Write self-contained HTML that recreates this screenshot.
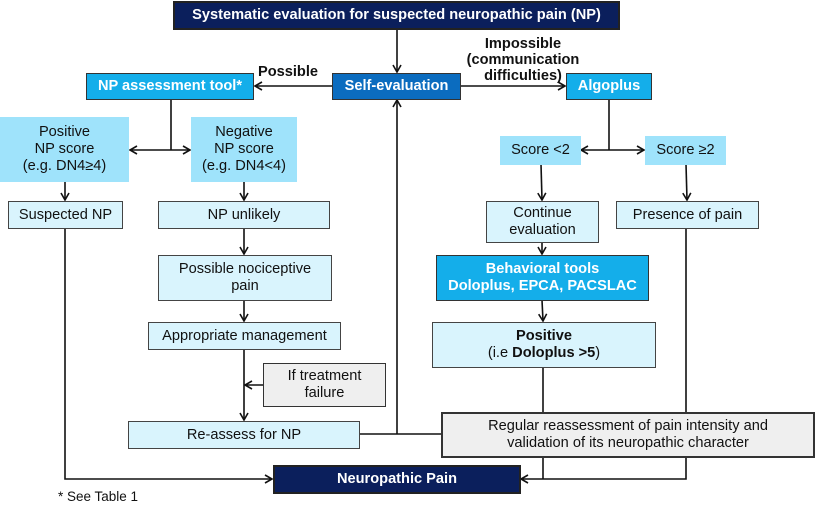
<!DOCTYPE html>
<html><head><style>
body{margin:0;width:815px;height:508px;background:#fff;position:relative;overflow:hidden;font-family:"Liberation Sans",Arial,sans-serif;}
.b{position:absolute;box-sizing:border-box;display:flex;align-items:center;justify-content:center;text-align:center;font-size:14.6px;line-height:17px;color:#111;}
.nav{background:#0b1f5c;color:#fff;font-weight:bold;border:2px solid #222;}
.dk{background:#0b6cbf;color:#fff;font-weight:bold;border:1px solid #333;}
.md{background:#14aeea;color:#fff;font-weight:bold;border:1px solid #333;}
.lt{background:#9fe3fb;}
.pl{background:#d9f4fd;border:1px solid #444;}
.gr{background:#efefef;border:1px solid #333;}
svg{position:absolute;left:0;top:0;}
.lb{position:absolute;font-weight:bold;font-size:14.6px;text-align:center;line-height:16px;color:#111;}
</style></head><body>
<svg width="815" height="508">
<defs><marker id="a" markerWidth="10" markerHeight="10" refX="8" refY="5" orient="auto" markerUnits="userSpaceOnUse"><path d="M1,1 L8,5 L1,9" fill="none" stroke="#111" stroke-width="1.6"/></marker></defs>
<g stroke="#111" stroke-width="1.6" fill="none">
<line x1="397" y1="29" x2="397" y2="72" marker-end="url(#a)"/>
<line x1="332" y1="86" x2="255" y2="86" marker-end="url(#a)"/>
<line x1="461" y1="86" x2="565" y2="86" marker-end="url(#a)"/>
<line x1="171" y1="99" x2="171" y2="150"/>
<line x1="171" y1="150" x2="130" y2="150" marker-end="url(#a)"/>
<line x1="171" y1="150" x2="190" y2="150" marker-end="url(#a)"/>
<line x1="609" y1="99" x2="609" y2="150"/>
<line x1="609" y1="150" x2="581" y2="150" marker-end="url(#a)"/>
<line x1="609" y1="150" x2="644" y2="150" marker-end="url(#a)"/>
<line x1="65" y1="182" x2="65" y2="200" marker-end="url(#a)"/>
<line x1="244" y1="182" x2="244" y2="200" marker-end="url(#a)"/>
<line x1="541" y1="164" x2="542" y2="200" marker-end="url(#a)"/>
<line x1="686" y1="164" x2="687" y2="200" marker-end="url(#a)"/>
<polyline points="65,228 65,479 272,479" marker-end="url(#a)"/>
<line x1="244" y1="228" x2="244" y2="254" marker-end="url(#a)"/>
<line x1="244" y1="300" x2="244" y2="321" marker-end="url(#a)"/>
<line x1="244" y1="349" x2="244" y2="420" marker-end="url(#a)"/>
<line x1="263" y1="385" x2="245" y2="385" marker-end="url(#a)"/>
<line x1="360" y1="434" x2="441" y2="434"/>
<line x1="397" y1="434" x2="397" y2="100" marker-end="url(#a)"/>
<line x1="542" y1="242" x2="542" y2="254" marker-end="url(#a)"/>
<line x1="542" y1="300" x2="543" y2="321" marker-end="url(#a)"/>
<line x1="543" y1="367" x2="543" y2="412"/>
<line x1="543" y1="457" x2="543" y2="479"/>
<polyline points="686,228 686,479 521,479" marker-end="url(#a)"/>
</g></svg>
<div class="b nav" style="left:173px;top:1px;width:447px;height:29px;">Systematic evaluation for suspected neuropathic pain (NP)</div>
<div class="b dk" style="left:332px;top:73px;width:129px;height:27px;">Self-evaluation</div>
<div class="b md" style="left:86px;top:73px;width:168px;height:27px;">NP assessment tool*</div>
<div class="b md" style="left:566px;top:73px;width:86px;height:27px;">Algoplus</div>
<div class="lb" style="left:258px;top:64px;">Possible</div>
<div class="lb" style="left:463px;top:36px;width:120px;">Impossible<br>(communication<br>difficulties)</div>
<div class="b lt" style="left:0;top:117px;width:129px;height:65px;">Positive<br>NP score<br>(e.g. DN4≥4)</div>
<div class="b lt" style="left:191px;top:117px;width:106px;height:65px;">Negative<br>NP score<br>(e.g. DN4&lt;4)</div>
<div class="b lt" style="left:500px;top:136px;width:81px;height:29px;">Score &lt;2</div>
<div class="b lt" style="left:645px;top:136px;width:81px;height:29px;">Score ≥2</div>
<div class="b pl" style="left:8px;top:201px;width:115px;height:28px;">Suspected NP</div>
<div class="b pl" style="left:158px;top:201px;width:172px;height:28px;">NP unlikely</div>
<div class="b pl" style="left:486px;top:201px;width:113px;height:42px;">Continue<br>evaluation</div>
<div class="b pl" style="left:616px;top:201px;width:143px;height:28px;">Presence of pain</div>
<div class="b pl" style="left:158px;top:255px;width:174px;height:46px;">Possible nociceptive<br>pain</div>
<div class="b md" style="left:436px;top:255px;width:213px;height:46px;">Behavioral tools<br>Doloplus, EPCA, PACSLAC</div>
<div class="b pl" style="left:148px;top:322px;width:193px;height:28px;">Appropriate management</div>
<div class="b pl" style="left:432px;top:322px;width:224px;height:46px;"><span><b>Positive</b><br>(i.e <b>Doloplus &gt;5</b>)</span></div>
<div class="b gr" style="left:263px;top:363px;width:123px;height:44px;">If treatment<br>failure</div>
<div class="b pl" style="left:128px;top:421px;width:232px;height:28px;">Re-assess for NP</div>
<div class="b gr" style="left:441px;top:412px;width:374px;height:46px;border-width:2px;">Regular reassessment of pain intensity and<br>validation of its neuropathic character</div>
<div class="b nav" style="left:273px;top:465px;width:248px;height:29px;">Neuropathic Pain</div>
<div style="position:absolute;left:58px;top:489px;font-size:13.5px;color:#111;">* See Table 1</div>
</body></html>
